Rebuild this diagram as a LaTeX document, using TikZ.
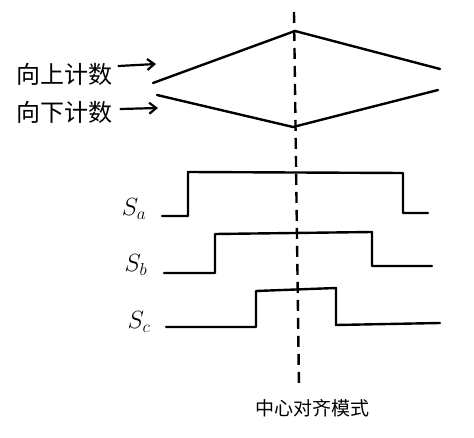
\documentclass[tikz,border=0pt]{standalone}
\usepackage{fontspec}
\newfontfamily\cjk{Noto Sans CJK SC}
\usetikzlibrary{arrows.meta}
\tikzset{
  wave/.style={line width=2.4pt, line join=round, line cap=round},
  axisline/.style={line width=2.4pt, dash pattern=on 11pt off 7pt},
  cnlabel/.style={font=\cjk\fontsize{24}{28}\selectfont, inner sep=0pt, anchor=west},
  siglabel/.style={font=\fontsize{27}{30}\selectfont, inner sep=0pt},
  pointer/.style={line width=2.2pt, line cap=round, -{Straight Barb[length=7pt,width=11pt,line width=2.2pt]}}
}
\begin{document}
\begin{tikzpicture}[x=1pt,y=-1pt]
\useasboundingbox (0,0) rectangle (474,438);
% center dashed line
\coordinate (ctop) at (294,12);
\coordinate (cbot) at (299,388);
\draw[axisline] (ctop) -- (cbot);
% carrier triangles
\draw[wave] (153,83) -- (295,31) -- (440,69);
\draw[wave] (157,95) -- (293,127) -- (438,90);
% labels
\node[cnlabel] (up) at (16,74) {向上计数};
\node[cnlabel] (down) at (16,112) {向下计数};
\coordinate (upend) at (156,64);
\coordinate (downend) at (158,108);
\draw[pointer] ([xshift=6pt,yshift=8pt]up.east) -- (upend);
\draw[pointer] ([xshift=8pt,yshift=3pt]down.east) -- (downend);
% waveforms
\draw[wave] (162,216) -- (188,216) -- (188,172) -- (403,173) -- (403,213) -- (428,213);
\draw[wave] (164,273) -- (215,273) -- (215,234) -- (372,232) -- (372,266) -- (432,266);
\draw[wave] (166,327) -- (256,327) -- (256,291) -- (336,288) -- (336,325) -- (440,323);
\node[siglabel] (sa) at (134,209) {$S_a$};
\node[siglabel] (sb) at (136,265) {$S_b$};
\node[siglabel] (sc) at (139,322) {$S_c$};
\node[font=\cjk\fontsize{19}{22}\selectfont, inner sep=0pt] (mode) at (312,408) {中心对齐模式};
\end{tikzpicture}
\end{document}
